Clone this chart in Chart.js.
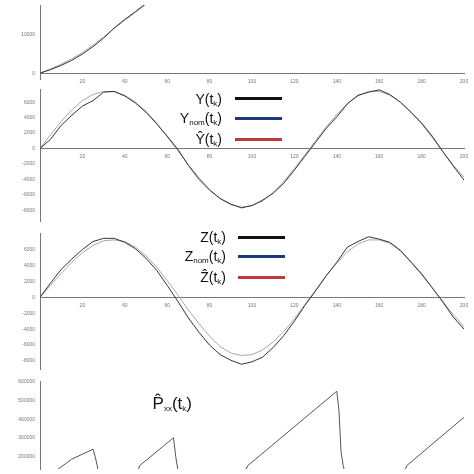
<!DOCTYPE html>
<html>
<head>
<meta charset="utf-8">
<script src="https://cdn.jsdelivr.net/npm/chart.js@4"></script>
<style>
  body { margin: 0; background: #fff; }
  #wrap { position: relative; width: 474px; height: 474px; overflow: hidden; font-family: "Liberation Sans", Arial, sans-serif; }
  .box { position: absolute; left: 0; width: 474px; }
  .lg { position: absolute; font-size: 14px; color: #111; text-align: right; width: 80px; line-height: 16px; }
  .lg sub { font-size: 8px; vertical-align: -2px; }
  .ln { position: absolute; height: 3px; width: 47px; }
</style>
</head>
<body>
<div id="wrap">
  <div class="box" style="top:0;height:84px"><canvas id="c1"></canvas></div>
  <div class="box" style="top:84px;height:142px"><canvas id="c2"></canvas></div>
  <div class="box" style="top:228px;height:146px"><canvas id="c3"></canvas></div>
  <div class="box" style="top:376px;height:98px"><canvas id="c4"></canvas></div>

  <div class="lg" style="left:142px;top:91px">Y(t<sub>k</sub>)</div>
  <div class="ln" style="left:235px;top:97px;background:#111"></div>
  <div class="lg" style="left:142px;top:110px">Y<sub>nom</sub>(t<sub>k</sub>)</div>
  <div class="ln" style="left:235px;top:117px;background:#1d3a7a"></div>
  <div class="lg" style="left:142px;top:131px">Y&#770;(t<sub>k</sub>)</div>
  <div class="ln" style="left:235px;top:138px;background:#c0393b"></div>

  <div class="lg" style="left:146px;top:229px">Z(t<sub>k</sub>)</div>
  <div class="ln" style="left:238px;top:236px;background:#111"></div>
  <div class="lg" style="left:146px;top:248px">Z<sub>nom</sub>(t<sub>k</sub>)</div>
  <div class="ln" style="left:238px;top:255px;background:#1d3a7a"></div>
  <div class="lg" style="left:146px;top:269px">Z&#770;(t<sub>k</sub>)</div>
  <div class="ln" style="left:238px;top:276px;background:#c0393b"></div>

  <div class="lg" style="left:112px;top:394px;font-size:17px;line-height:20px">P&#770;<sub>xx</sub>(t<sub>k</sub>)</div>
</div>
<script>
const T = [0,5,10,15,20,25,30,35,40,45,50,55,60,65,70,75,80,85,90,95,100,105,110,115,120,125,130,135,140,145,150,155,160,165,170,175,180,185,190,195,200];

const xT = [0,5,10,15,20,25,30,35,40,45,50,55];
const xMeas = [0,900,2000,3300,4900,6800,9000,11600,13800,15800,17900,20000];
const xHat = [0,1100,2300,3700,5300,7200,9300,11500,13600,15600,17700,19800];

const yMeas = [0,1200,3000,4300,5500,6200,7300,7400,6800,5900,4700,3200,1600,-100,-2200,-4000,-5400,-6500,-7200,-7700,-7400,-6700,-5800,-4500,-2800,-1000,800,2600,4100,5800,6900,7300,7600,7000,6000,4700,3300,1600,-400,-2300,-4100];
const yHat = [0,1800,3500,5000,6200,7000,7400,7350,6900,6000,4800,3300,1500,-300,-2100,-3800,-5300,-6500,-7300,-7600,-7400,-6800,-5700,-4300,-2600,-800,1000,2800,4400,5800,6800,7400,7400,6900,6000,4700,3200,1400,-400,-2200,-3700];

const zMeas = [0,1800,3500,4800,6000,7000,7400,7400,6900,6100,4900,3400,1500,-500,-2600,-4400,-6000,-7200,-7900,-8400,-8100,-7500,-6300,-4800,-3000,-1000,800,2700,4400,6300,7000,7600,7300,6900,5900,4400,2900,1200,-600,-2500,-4000];
const zHat = [0,1500,3000,4400,5600,6500,7100,7200,7000,6300,5200,3800,2100,300,-1600,-3300,-4900,-6200,-7000,-7300,-7200,-6600,-5600,-4300,-2700,-900,900,2700,4300,5700,6700,7200,7200,6800,5800,4500,3000,1200,-500,-2200,-3700];

const pT = [0,15,25,26,27,28,45,47,63,64,65,66,95,98,140,141,142,143,145,170,173,200];
const pVal = [60000,185000,238000,200000,150000,80000,80000,150000,300000,200000,130000,70000,70000,150000,550000,450000,225000,150000,60000,60000,150000,410000];

const xTicks = [20,40,60,80,100,120,140,160,180,200];

function pts(ts, vs) { return ts.map((t, i) => ({ x: t, y: vs[i] })); }

function makeChart(id, sets, ymin, ymax, yTicks, showX) {
  return new Chart(document.getElementById(id), {
    type: "line",
    data: { datasets: sets.map(([d, c]) => ({ data: d, borderColor: c, borderWidth: 1, pointRadius: 0, tension: 0 })) },
    options: {
      animation: false,
      responsive: true,
      maintainAspectRatio: false,
      layout: { padding: { left: 0, right: 10, top: 0, bottom: 0 } },
      plugins: { legend: { display: false }, tooltip: { enabled: false } },
      scales: {
        x: {
          type: "linear", min: 0, max: 200, display: showX,
          position: { y: 0 },
          grid: { display: false, drawTicks: true, tickLength: 3, color: "#777" },
          border: { color: "#777" },
          afterBuildTicks: (s) => { s.ticks = xTicks.map((v) => ({ value: v })); },
          ticks: { color: "#777", font: { size: 5 }, padding: 2, maxRotation: 0, callback: (v) => String(v) },
        },
        y: {
          min: ymin, max: ymax,
          afterFit: (s) => { s.width = 40; },
          afterBuildTicks: (s) => { s.ticks = yTicks.map((v) => ({ value: v })); },
          grid: { display: false, drawTicks: true, tickLength: 3, color: "#777" },
          border: { color: "#777" },
          ticks: { color: "#777", font: { size: 5 }, padding: 2, callback: (v) => String(v) },
        },
      },
    },
  });
}

makeChart("c1", [[pts(xT, xMeas), "#333"], [pts(xT, xHat), "#b8a0a0"]], -1500, 17500, [0, 10000], true);
makeChart("c2", [[pts(T, yMeas), "#333"], [pts(T, yHat), "#b8a0a0"]], -9400, 7710, [-8000,-6000,-4000,-2000,0,2000,4000,6000], true);
makeChart("c3", [[pts(T, zMeas), "#333"], [pts(T, zHat), "#b8a0a0"]], -9000, 8070, [-8000,-6000,-4000,-2000,0,2000,4000,6000], true);
makeChart("c4", [[pts(pT, pVal), "#555"]], 132000, 605000, [200000,300000,400000,500000,600000], false);
</script>
</body>
</html>
